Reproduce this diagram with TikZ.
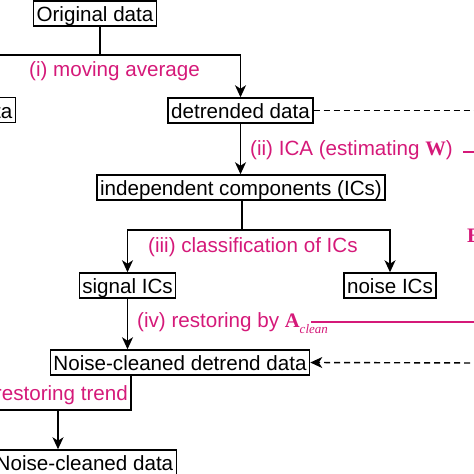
\documentclass[tikz,border=0pt]{standalone}
\usepackage{fontspec}
\setmainfont{Liberation Sans}
\newfontfamily\serifW{Liberation Serif}
\usetikzlibrary{arrows.meta}
\definecolor{labred}{RGB}{213,25,121}
\begin{document}
\begin{tikzpicture}[x=1pt,y=-1pt,
		box/.style={draw, line width=1.5pt, inner xsep=3pt, inner ysep=0pt, text height=16pt, text depth=0pt, minimum height=25pt, font=\fontsize{20.6}{24}\selectfont},
		lab/.style={text=labred, inner sep=0pt, font=\fontsize{20.6}{24}\selectfont},
		con/.style={line width=1.4pt},
		arr/.style={line width=1.4pt, -{Stealth[length=12pt,width=11pt,inset=3.5pt]}},
		dsh/.style={dash pattern=on 6pt off 4pt}]
		\useasboundingbox (0,0) rectangle (474,474);
		\clip (0,0) rectangle (474,474);
		
		% boxes
		\node[box] (orig) at (95,13.5) {Original data};
		\node[box, anchor=east] (trend) at (16,110) {trend data};
		\node[box] (detr) at (240.5,110.5) {detrended data};
		\node[box] (ics) at (241,187.5) {independent components (ICs)};
		\node[box] (sig) at (127.5,285.5) {signal ICs};
		\node[box] (noise) at (390,285.5) {noise ICs};
		\node[box] (ncd) at (180,362.5) {Noise-cleaned detrend data};
		\node[box, anchor=east] (clean) at (177,462.5) {Noise-cleaned data};
		
		% labels
		\node[lab, anchor=base west] (mavg) at (29,76) {(i) moving average};
		\node[lab, anchor=base west] (ica) at (250,155) {(ii) ICA (estimating {\serifW\bfseries W})};
		\node[lab, anchor=base west] (cls) at (148,252) {(iii) classification of ICs};
		\node[lab, anchor=base west] (est) at (467,242) {\serifW\bfseries E};
		\node[lab, anchor=base west] (rest) at (137,327) {(iv) restoring by {\serifW\bfseries A}\raisebox{-6pt}{\fontsize{13}{13}\serifW\itshape clean}};
		\node[lab, anchor=base east] (rtrd) at (128,400) {(v) restoring trend};
		
		% junctions and free ends
		\coordinate (j1) at (100,55);
		\coordinate (j2) at (242,230);
		\coordinate (j3) at (131,410);
		\coordinate (j4) at (58,410);
		\coordinate (j5) at (-10,410);
		\coordinate (w1) at (463,152);
		\coordinate (w2) at (480,152);
		\coordinate (a1) at (311,322);
		\coordinate (a2) at (480,322);
		\coordinate (rd) at (480,111);
		\coordinate (rn) at (480,363);
		
		\draw[con] (orig.south -| j1) -- (j1);
		\draw[arr] (j1) -| (trend.north);
		\draw[arr] (j1) -| (detr.north);
		\draw[arr] (detr.south) -- (detr.south |- ics.north);
		\draw[con] (ics.south -| j2) -- (j2);
		\draw[arr] (j2) -| (sig.north);
		\draw[arr] (j2) -| (noise.north);
		\draw[arr] (sig.south) -- (sig.south |- ncd.north);
		\draw[con] (ncd.south -| j3) -- (j3) -- (j5);
		\draw[arr] (j4) -- (j4 |- clean.north);
		
		\draw[con, dsh] (detr.east) -- (detr.east -| rd);
		\draw[arr, dsh] (rn) -- (ncd.east);
		\draw[con, labred, line width=1.3pt] (w1) -- (w2);
		\draw[con, labred, line width=1.3pt] (a1) -- (a2);
	\end{tikzpicture}
\end{document}
